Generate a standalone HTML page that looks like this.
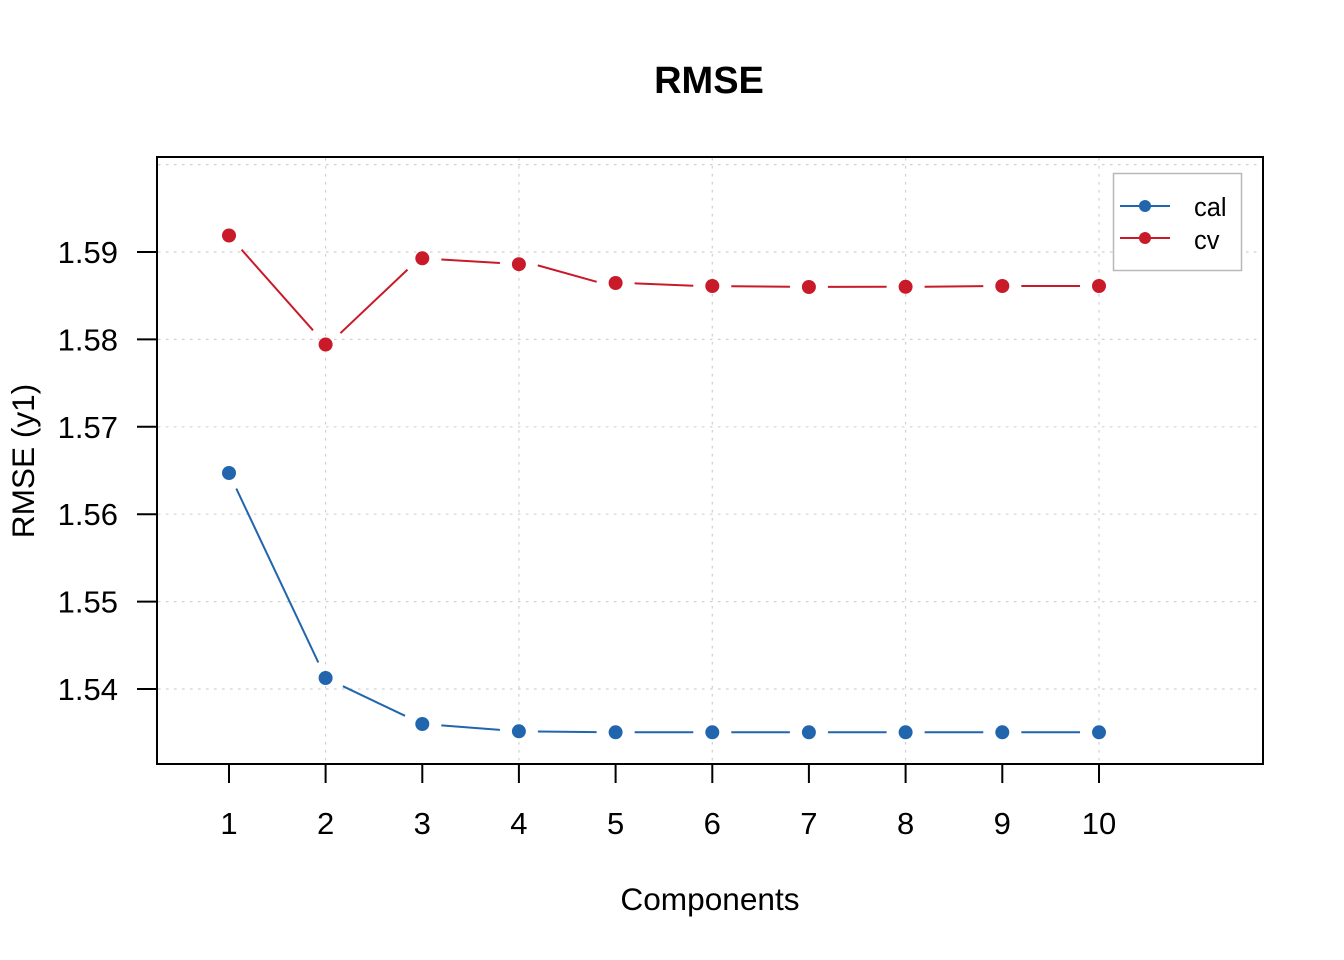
<!DOCTYPE html>
<html><head><meta charset="utf-8"><style>
html,body{margin:0;padding:0;background:#fff;}
svg{display:block;}
text{font-family:"Liberation Sans",Arial,sans-serif;fill:#000;}
</style></head><body>
<svg width="1344" height="960" viewBox="0 0 1344 960" xmlns="http://www.w3.org/2000/svg">
<rect width="1344" height="960" fill="#fff"/>
<g stroke="#d0d0d0" stroke-width="1.2" stroke-dasharray="2.5,5.5" fill="none">
<line x1="158" x2="1262" y1="164.6" y2="164.6"/>
<line x1="158" x2="1262" y1="252" y2="252"/>
<line x1="158" x2="1262" y1="339.4" y2="339.4"/>
<line x1="158" x2="1262" y1="426.8" y2="426.8"/>
<line x1="158" x2="1262" y1="514.2" y2="514.2"/>
<line x1="158" x2="1262" y1="601.6" y2="601.6"/>
<line x1="158" x2="1262" y1="689" y2="689"/>
<line x1="325.6" x2="325.6" y1="158" y2="763"/>
<line x1="518.9" x2="518.9" y1="158" y2="763"/>
<line x1="712.3" x2="712.3" y1="158" y2="763"/>
<line x1="905.6" x2="905.6" y1="158" y2="763"/>
<line x1="1099" x2="1099" y1="158" y2="763"/>
</g>
<g fill="#2166AC">
<circle cx="229" cy="473" r="7"/>
<circle cx="325.6" cy="678" r="7"/>
<circle cx="422.3" cy="724" r="7"/>
<circle cx="518.9" cy="731.3" r="7"/>
<circle cx="615.6" cy="732.3" r="7"/>
<circle cx="712.3" cy="732.3" r="7"/>
<circle cx="808.9" cy="732.3" r="7"/>
<circle cx="905.6" cy="732.3" r="7"/>
<circle cx="1002.3" cy="732.3" r="7"/>
<circle cx="1099" cy="732.3" r="7"/>
</g>
<g stroke="#2166AC" stroke-width="2">
<line x1="236.3" y1="488.6" x2="318.3" y2="662.4"/>
<line x1="342.9" y1="686.2" x2="405.0" y2="715.8"/>
<line x1="441.3" y1="725.4" x2="499.9" y2="729.9"/>
<line x1="537.9" y1="731.5" x2="596.6" y2="732.1"/>
<line x1="634.6" y1="732.3" x2="693.3" y2="732.3"/>
<line x1="731.3" y1="732.3" x2="789.9" y2="732.3"/>
<line x1="827.9" y1="732.3" x2="886.6" y2="732.3"/>
<line x1="924.6" y1="732.3" x2="983.3" y2="732.3"/>
<line x1="1021.3" y1="732.3" x2="1080" y2="732.3"/>
</g>
<g fill="#C91A2A">
<circle cx="229" cy="235.5" r="7"/>
<circle cx="325.6" cy="344.5" r="7"/>
<circle cx="422.3" cy="258.3" r="7"/>
<circle cx="518.9" cy="264.2" r="7"/>
<circle cx="615.6" cy="283" r="7"/>
<circle cx="712.3" cy="286" r="7"/>
<circle cx="808.9" cy="287" r="7"/>
<circle cx="905.6" cy="286.8" r="7"/>
<circle cx="1002.3" cy="286" r="7"/>
<circle cx="1099" cy="286" r="7"/>
</g>
<g stroke="#C91A2A" stroke-width="2">
<line x1="241.6" y1="249.7" x2="313.0" y2="330.3"/>
<line x1="340.4" y1="333.2" x2="407.5" y2="269.6"/>
<line x1="441.3" y1="259.5" x2="499.9" y2="263.0"/>
<line x1="537.8" y1="265.4" x2="596.7" y2="281.8"/>
<line x1="634.6" y1="283.3" x2="693.3" y2="285.7"/>
<line x1="731.3" y1="286.2" x2="789.9" y2="286.8"/>
<line x1="827.9" y1="286.9" x2="886.6" y2="286.8"/>
<line x1="924.6" y1="286.7" x2="983.3" y2="286.1"/>
<line x1="1021.3" y1="286" x2="1080" y2="286"/>
</g>
<rect x="1113.5" y="173.5" width="128" height="97" fill="#fff" stroke="#b8b8b8" stroke-width="1.5"/>
<line x1="1120" y1="206" x2="1170" y2="206" stroke="#2166AC" stroke-width="2"/>
<circle cx="1145" cy="206" r="6" fill="#2166AC"/>
<line x1="1120" y1="238" x2="1170" y2="238" stroke="#C91A2A" stroke-width="2"/>
<circle cx="1145" cy="238" r="6" fill="#C91A2A"/>
<text x="1194" y="216" font-size="25.5">cal</text>
<text x="1194" y="249" font-size="25.5">cv</text>
<rect x="157" y="157" width="1106" height="607" fill="none" stroke="#000" stroke-width="2"/>
<g stroke="#000" stroke-width="2">
<line x1="229" x2="229" y1="764" y2="783"/>
<line x1="325.6" x2="325.6" y1="764" y2="783"/>
<line x1="422.3" x2="422.3" y1="764" y2="783"/>
<line x1="518.9" x2="518.9" y1="764" y2="783"/>
<line x1="615.6" x2="615.6" y1="764" y2="783"/>
<line x1="712.3" x2="712.3" y1="764" y2="783"/>
<line x1="808.9" x2="808.9" y1="764" y2="783"/>
<line x1="905.6" x2="905.6" y1="764" y2="783"/>
<line x1="1002.3" x2="1002.3" y1="764" y2="783"/>
<line x1="1099" x2="1099" y1="764" y2="783"/>
<line x1="137" x2="157" y1="252" y2="252"/>
<line x1="137" x2="157" y1="339.4" y2="339.4"/>
<line x1="137" x2="157" y1="426.8" y2="426.8"/>
<line x1="137" x2="157" y1="514.2" y2="514.2"/>
<line x1="137" x2="157" y1="601.6" y2="601.6"/>
<line x1="137" x2="157" y1="689" y2="689"/>
</g>
<g font-size="31" text-anchor="middle">
<text x="229" y="834">1</text>
<text x="325.6" y="834">2</text>
<text x="422.3" y="834">3</text>
<text x="518.9" y="834">4</text>
<text x="615.6" y="834">5</text>
<text x="712.3" y="834">6</text>
<text x="808.9" y="834">7</text>
<text x="905.6" y="834">8</text>
<text x="1002.3" y="834">9</text>
<text x="1099" y="834">10</text>
</g>
<g font-size="31" text-anchor="end">
<text x="118" y="263">1.59</text>
<text x="118" y="350.4">1.58</text>
<text x="118" y="437.8">1.57</text>
<text x="118" y="525.2">1.56</text>
<text x="118" y="612.6">1.55</text>
<text x="118" y="700">1.54</text>
</g>
<text x="710" y="910" font-size="31.6" text-anchor="middle">Components</text>
<text transform="translate(34,461) rotate(-90)" font-size="31.6" text-anchor="middle">RMSE (y1)</text>
<text x="709" y="93" font-size="38" font-weight="bold" text-anchor="middle">RMSE</text>
</svg>
</body></html>
